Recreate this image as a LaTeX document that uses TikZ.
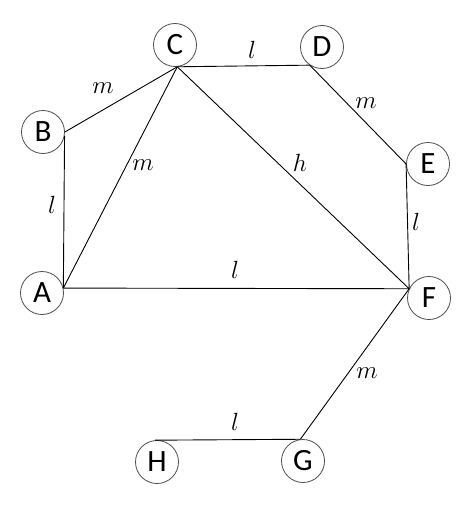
\documentclass[tikz,border=0pt]{standalone}
\usepackage{fontspec}
\setmainfont{Carlito}
\begin{document}
\begin{tikzpicture}[x=1pt,y=-1pt,
  vert/.style={circle,draw=black!70,line width=0.8pt,minimum size=43pt,inner sep=0pt,font=\fontsize{31}{33}\selectfont},
  edge/.style={line width=0.9pt,black},
  lab/.style={font=\fontsize{28}{30}\selectfont,inner sep=1pt}]
\useasboundingbox (0,0) rectangle (474,506);
\node[vert] (C) at (175,45) {C};
\node[vert] (D) at (322,47) {D};
\node[vert] (B) at (43,132) {B};
\node[vert] (E) at (428,164) {E};
\node[vert] (A) at (42,293) {A};
\node[vert] (F) at (429,298) {F};
\node[vert] (H) at (157,462) {H};
\node[vert] (G) at (303,461) {G};
\draw[edge] (C.-84) -- (D.-124);
\draw[edge] (B.0) -- (C.-84);
\draw[edge] (B.-10) -- (A.13);
\draw[edge] (A.13) -- (C.-84);
\draw[edge] (C.-84) -- (F.155);
\draw[edge] (A.13) -- (F.155);
\draw[edge] (D.-124) -- (E.180);
\draw[edge] (E.180) -- (F.155);
\draw[edge] (F.155) -- (G.97);
\draw[edge] (H.95) -- (G.97);
\node[lab] (lcd) at (252,50) {$l$};
\node[lab] (lbc) at (103,88) {$m$};
\node[lab] (lab1) at (52,205) {$l$};
\node[lab] (lac) at (143,165) {$m$};
\node[lab] (lcf) at (300,163) {$h$};
\node[lab] (laf) at (235,270) {$l$};
\node[lab] (lde) at (366,103) {$m$};
\node[lab] (lef) at (416,222) {$l$};
\node[lab] (lfg) at (367,373) {$m$};
\node[lab] (lhg) at (235,422) {$l$};
\end{tikzpicture}
\end{document}
